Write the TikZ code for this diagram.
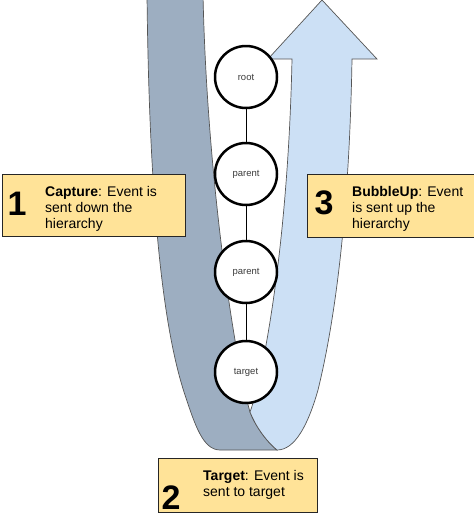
\documentclass[tikz,border=0pt]{standalone}
\usepackage{fontspec}
\setmainfont{Liberation Sans}
\definecolor{darkband}{RGB}{157,174,193}
\definecolor{lightband}{RGB}{204,224,245}
\definecolor{boxfill}{RGB}{255,227,152}
\definecolor{edgegray}{RGB}{85,85,85}
\definecolor{labelgray}{RGB}{60,60,60}
\tikzset{
  bandline/.style={draw=edgegray, line width=0.7pt},
  treenode/.style={circle, draw=black, line width=2.5pt, fill=white, minimum size=62pt, inner sep=0pt, font=\fontsize{9.5}{11}\selectfont, text=labelgray},
  treeedge/.style={draw=black, line width=0.8pt},
  infobox/.style={draw=black!85, line width=1.2pt, fill=boxfill, anchor=north west, inner sep=0pt},
  bignum/.style={font=\fontsize{34}{34}\selectfont\bfseries, inner sep=0pt},
  infotext/.style={font=\fontsize{14}{16}\selectfont, align=left, anchor=north west, inner sep=0pt}
}
\begin{document}
\begin{tikzpicture}[x=1pt,y=-1pt]
\useasboundingbox (0,0) rectangle (474,520);
\clip (0,0) rectangle (474,520);
% capture band (dark)
\draw[bandline, fill=darkband] (147,-5) .. controls (149,180) and (160,320) .. (185,395)
  .. controls (195,425) and (203,450) .. (220,450) -- (277,450)
  .. controls (265,440) and (255,425) .. (250,412)
  .. controls (235,360) and (207,180) .. (203,-5) -- cycle;
% bubble band (light) with arrow head
\draw[bandline, fill=lightband] (250,412) .. controls (262,380) and (288,250) .. (292,59)
  -- (268,59) -- (322,0) -- (377,59) -- (352,59)
  .. controls (350,180) and (340,300) .. (318,390)
  .. controls (308,425) and (295,450) .. (277,450)
  .. controls (265,440) and (255,425) .. (250,412) -- cycle;
% tree
\node[treenode] (root) at (246,77) {root};
\node[treenode] (p1) at (246,174) {parent};
\node[treenode] (p2) at (246,272) {parent};
\node[treenode] (target) at (246,372) {target};
\draw[treeedge] (root) -- (p1);
\draw[treeedge] (p1) -- (p2);
\draw[treeedge] (p2) -- (target);
% boxes
\node[infobox, minimum width=183pt, minimum height=62pt] (box1) at (2,174) {};
\node[bignum] (n1) at (17,204) {1};
\node[infotext] (t1) at (45,186) {\textbf{Capture}: Event is\\sent down the\\hierarchy};
\node[infobox, minimum width=167pt, minimum height=63pt] (box3) at (307,174) {};
\node[bignum] (n3) at (324,203) {3};
\node[infotext] (t3) at (352,186) {\textbf{BubbleUp}: Event\\is sent up the\\hierarchy};
\node[infobox, minimum width=159pt, minimum height=54pt] (box2) at (158,458) {};
\node[bignum] (n2) at (171,498) {2};
\node[infotext] (t2) at (203,470) {\textbf{Target}: Event is\\sent to target};
\end{tikzpicture}
\end{document}
